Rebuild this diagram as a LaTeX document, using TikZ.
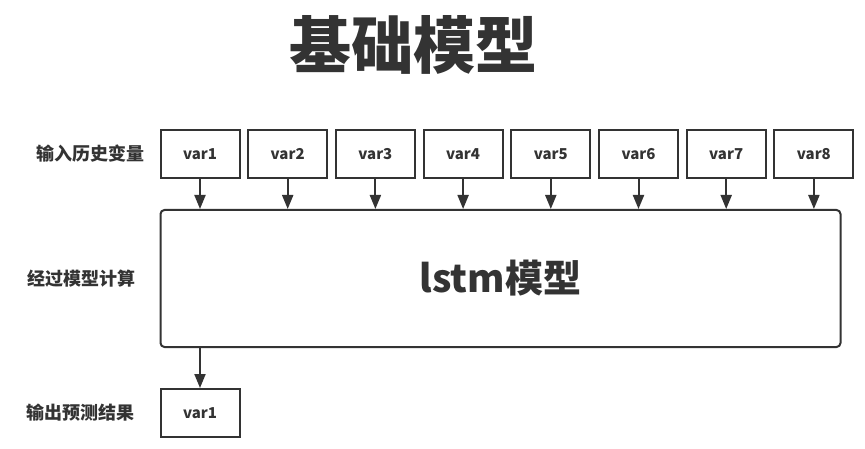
\documentclass[tikz,border=0pt]{standalone}
\usepackage{fontspec}
\setmainfont{Noto Sans CJK SC}
\usetikzlibrary{arrows.meta,positioning}
\definecolor{ink}{HTML}{333333}

\begin{document}
\begin{tikzpicture}[
  x=1pt, y=-1pt,
  node distance=6.7pt,
  every node/.style={text=ink, font=\bfseries},
  var/.style={rectangle, draw=ink, line width=2pt, align=center,
              minimum width=79pt, minimum height=48pt, inner sep=0pt,
              font=\fontsize{15}{18}\bfseries\selectfont},
  model/.style={rectangle, rounded corners=4pt, draw=ink, line width=2pt,
                minimum width=680pt, minimum height=137pt, inner sep=0pt,
                font=\fontsize{38}{44}\bfseries\selectfont},
  lbl/.style={font=\fontsize{18}{22}\bfseries\selectfont, inner sep=0pt},
  arr/.style={draw=ink, line width=2pt, -{Triangle[length=14pt,width=11pt]}}]
  \useasboundingbox (0,0) rectangle (865,449);
  \node[font=\fontsize{62}{72}\bfseries\selectfont] (title) at (413,45) {基础模型};
  \node[var, anchor=north west] (v1) at (159.5,129) {var1};
  \node[var, right=of v1] (v2) {var2};
  \node[var, right=of v2] (v3) {var3};
  \node[var, right=of v3] (v4) {var4};
  \node[var, right=of v4] (v5) {var5};
  \node[var, right=of v5] (v6) {var6};
  \node[var, right=of v6] (v7) {var7};
  \node[var, right=of v7] (v8) {var8};
  \node[model, below right=30pt and 0pt of v1.south west] (lstm) {lstm模型};
  \node[var, below right=40pt and 0pt of lstm.south west] (out) {var1};
  \node[lbl, left=15pt of v1] (inlbl) {输入历史变量};
  \node[lbl, left=24pt of lstm] (mdlbl) {经过模型计算};
  \node[lbl, left=25pt of out] (outlbl) {输出预测结果};
  \draw[arr] (v1) -- (v1 |- lstm.north);
  \draw[arr] (v2) -- (v2 |- lstm.north);
  \draw[arr] (v3) -- (v3 |- lstm.north);
  \draw[arr] (v4) -- (v4 |- lstm.north);
  \draw[arr] (v5) -- (v5 |- lstm.north);
  \draw[arr] (v6) -- (v6 |- lstm.north);
  \draw[arr] (v7) -- (v7 |- lstm.north);
  \draw[arr] (v8) -- (v8 |- lstm.north);
  \draw[arr] (lstm.south -| out) -- (out);
\end{tikzpicture}
\end{document}
